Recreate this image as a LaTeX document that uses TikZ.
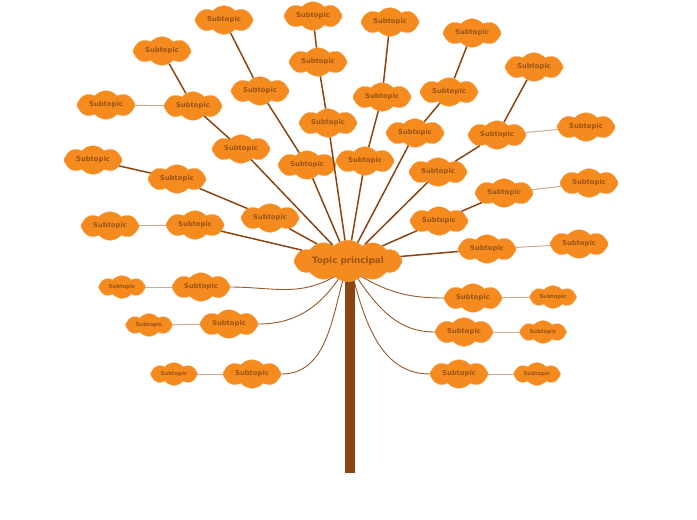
\documentclass[tikz,border=0pt]{standalone}
\usepackage{fontspec}
\setmainfont{DejaVu Sans}
\usepackage{tikz}
\usetikzlibrary{shapes.symbols}
\definecolor{cloudorange}{HTML}{F58A1F}
\definecolor{cloudtext}{HTML}{9B5517}
\definecolor{barkbrown}{HTML}{8B4513}
\definecolor{twigtan}{HTML}{CDAA90}

\begin{document}
\begin{tikzpicture}[x=1pt, y=1pt,
	sub/.style={cloud, cloud puffs=8, cloud puff arc=100, aspect=2.2, fill=cloudorange, draw=cloudorange!85!white,
		text=cloudtext, inner sep=0pt, minimum width=58pt, minimum height=20pt, font=\bfseries\fontsize{6.8}{8}\selectfont},
	subsmall/.style={sub, minimum width=47pt, minimum height=16pt, font=\bfseries\fontsize{5.4}{6}\selectfont},
	topic/.style={sub, cloud puffs=12, cloud puff arc=90, aspect=3.2, minimum width=108pt, minimum height=27pt, font=\bfseries\fontsize{8.8}{10}\selectfont},
	branch/.style={barkbrown, line width=1.5pt},
	twig/.style={twigtan, line width=1pt},
	rootline/.style={barkbrown!90, line width=0.9pt}]

	\useasboundingbox (0,0) rectangle (697,-520);

	\fill[barkbrown] (345,-276) rectangle (355,-473);

	\node [topic] (TP) at (348,-261) {Topic principal};

	\node [sub] (L1) at (195,-225) {Subtopic};
	\node [sub] (L1a) at (110,-226) {Subtopic};

	\node [sub] (L2) at (270,-218) {Subtopic};
	\node [sub] (L2a) at (177,-179) {Subtopic};
	\node [sub] (L2b) at (93,-160) {Subtopic};

	\node [sub] (L3) at (241,-149) {Subtopic};
	\node [sub] (L3a) at (193,-106) {Subtopic};
	\node [sub] (L3b) at (162,-51) {Subtopic};
	\node [sub] (L3c) at (106,-105) {Subtopic};

	\node [sub] (L4) at (307,-165) {Subtopic};
	\node [sub] (L4a) at (260,-91) {Subtopic};
	\node [sub] (L4b) at (224,-20) {Subtopic};

	\node [sub] (L5) at (328,-123) {Subtopic};
	\node [sub] (L5a) at (318,-62) {Subtopic};
	\node [sub] (L5b) at (313,-16) {Subtopic};

	\node [sub] (L6) at (365,-161) {Subtopic};
	\node [sub] (L6a) at (382,-97) {Subtopic};
	\node [sub] (L6b) at (390,-22) {Subtopic};

	\node [sub] (L7) at (415,-133) {Subtopic};
	\node [sub] (L7a) at (449,-92) {Subtopic};
	\node [sub] (L7b) at (472,-33) {Subtopic};

	\node [sub] (L8) at (438,-172) {Subtopic};
	\node [sub] (L8a) at (497,-135) {Subtopic};
	\node [sub] (L8b) at (534,-67) {Subtopic};
	\node [sub] (L8c) at (586,-127) {Subtopic};

	\node [sub] (L9) at (439,-221) {Subtopic};
	\node [sub] (L9a) at (504,-193) {Subtopic};
	\node [sub] (L9b) at (589,-183) {Subtopic};

	\node [sub] (L10) at (487,-249) {Subtopic};
	\node [sub] (L10a) at (579,-244) {Subtopic};

	\node [sub] (D1) at (201,-287) {Subtopic};
	\node [subsmall] (D1a) at (122,-287) {Subtopic};
	\node [sub] (D2) at (229,-324) {Subtopic};
	\node [subsmall] (D2a) at (149,-325) {Subtopic};
	\node [sub] (D3) at (252,-374) {Subtopic};
	\node [subsmall] (D3a) at (174,-374) {Subtopic};
	\node [sub] (D4) at (473,-298) {Subtopic};
	\node [subsmall] (D4a) at (553,-297) {Subtopic};
	\node [sub] (D5) at (464,-332) {Subtopic};
	\node [subsmall] (D5a) at (543,-332) {Subtopic};
	\node [sub] (D6) at (459,-374) {Subtopic};
	\node [subsmall] (D6a) at (537,-374) {Subtopic};

	\draw[branch] (L1) -- (TP);
	\draw[twig] (L1) -- (L1a);
	\draw[branch] (L2) -- (TP);
	\draw[branch] (L2a) -- (L2);
	\draw[branch] (L2b) -- (L2a);
	\draw[branch] (L3) -- (TP);
	\draw[branch] (L3a) -- (L3);
	\draw[branch] (L3b) -- (L3a);
	\draw[twig] (L3a) -- (L3c);
	\draw[branch] (L4) -- (TP);
	\draw[branch] (L4a) -- (L4);
	\draw[branch] (L4b) -- (L4a);
	\draw[branch] (L5) -- (TP);
	\draw[branch] (L5a) -- (L5);
	\draw[branch] (L5b) -- (L5a);
	\draw[branch] (L6) -- (TP);
	\draw[branch] (L6a) -- (L6);
	\draw[branch] (L6b) -- (L6a);
	\draw[branch] (L7) -- (TP);
	\draw[branch] (L7a) -- (L7);
	\draw[branch] (L7b) -- (L7a);
	\draw[branch] (L8) -- (TP);
	\draw[branch] (L8a) -- (L8);
	\draw[branch] (L8b) -- (L8a);
	\draw[twig] (L8a) -- (L8c);
	\draw[branch] (L9) -- (TP);
	\draw[branch] (L9a) -- (L9);
	\draw[twig] (L9a) -- (L9b);
	\draw[branch] (L10) -- (TP);
	\draw[twig] (L10) -- (L10a);

	\draw[rootline] (D1.east) to[out=0, in=210] (TP.229);
	\draw[rootline] (D2.east) to[out=0, in=235] (TP.242);
	\draw[rootline] (D3.east) to[out=0, in=255] (TP.255);
	\draw[rootline] (D4.west) to[out=180, in=330] (TP.311);
	\draw[rootline] (D5.west) to[out=180, in=305] (TP.299);
	\draw[rootline] (D6.west) to[out=180, in=285] (TP.287);
	\draw[twig] (D1) -- (D1a);
	\draw[twig] (D2) -- (D2a);
	\draw[twig] (D3) -- (D3a);
	\draw[twig] (D4) -- (D4a);
	\draw[twig] (D5) -- (D5a);
	\draw[twig] (D6) -- (D6a);

\end{tikzpicture}
\end{document}
